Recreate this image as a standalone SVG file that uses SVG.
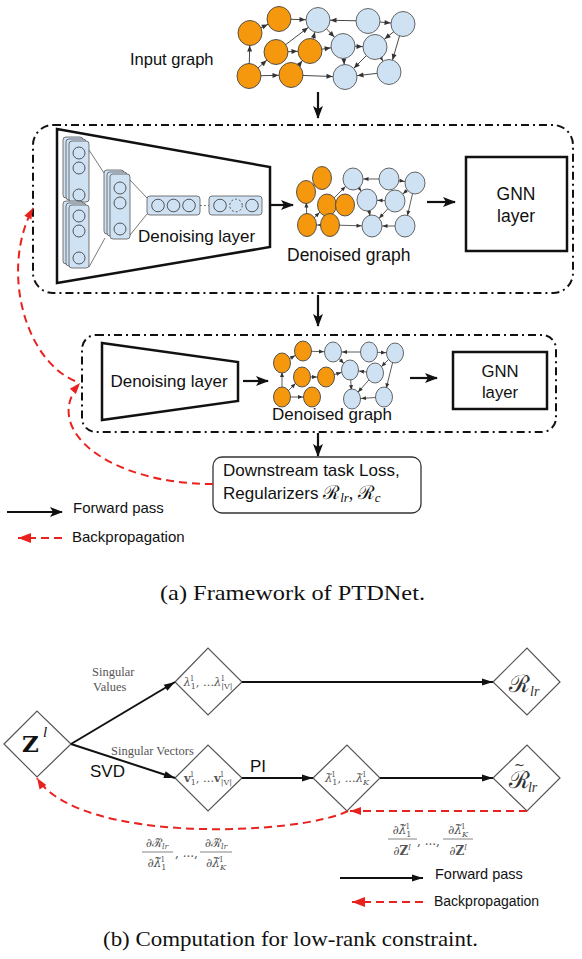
<svg xmlns="http://www.w3.org/2000/svg" width="582" height="959" viewBox="0 0 582 959">
<style>
.sans{font-family:"Liberation Sans",Arial,sans-serif;fill:#111}
.cap{font-family:"Liberation Serif","Times New Roman",serif;fill:#111}
.lab{font-family:"Liberation Serif","DejaVu Serif",serif;fill:#555}
.math{font-family:"DejaVu Serif","Liberation Serif",serif;fill:#555}
.or{fill:#f5980d;stroke:#444;stroke-width:0.9}
.bl{fill:#cfe2f3;stroke:#555;stroke-width:0.9}
.e1{stroke:#333;stroke-width:0.9;fill:none;marker-end:url(#g1)}
.e2{stroke:#333;stroke-width:0.8;fill:none;marker-end:url(#g2)}
.e3{stroke:#333;stroke-width:0.8;fill:none;marker-end:url(#g3)}
.frame{fill:none;stroke:#111;stroke-width:2;stroke-dasharray:8 4 2 4}
.trap{fill:#fff;stroke:#111;stroke-width:2.5}
.box{fill:#fff;stroke:#111;stroke-width:2.5}
.nn{fill:#cfe2f3;stroke:#555;stroke-width:0.8}
.nc{fill:none;stroke:#444;stroke-width:0.9}
.fw{stroke:#111;stroke-width:2.2;fill:none;marker-end:url(#ah)}
.bp{stroke:#e8231f;stroke-width:2;fill:none;stroke-dasharray:8 5;marker-end:url(#rh)}
.dia{fill:#fff;stroke:#555;stroke-width:1.2}
.fb{stroke:#111;stroke-width:2;fill:none;marker-end:url(#bh)}
.bar{stroke:#666;stroke-width:0.8}
</style>
<defs>
<marker id="g1" markerUnits="userSpaceOnUse" orient="auto" refX="18.5" refY="2.5" markerWidth="7" markerHeight="5" overflow="visible"><path d="M0,0 L6,2.5 L0,5 z" fill="#333"/></marker>
<marker id="g2" markerUnits="userSpaceOnUse" orient="auto" refX="15.5" refY="2" markerWidth="6" markerHeight="4" overflow="visible"><path d="M0,0 L5,2 L0,4 z" fill="#333"/></marker>
<marker id="g3" markerUnits="userSpaceOnUse" orient="auto" refX="14" refY="2" markerWidth="6" markerHeight="4" overflow="visible"><path d="M0,0 L5,2 L0,4 z" fill="#333"/></marker>
<marker id="ah" markerUnits="userSpaceOnUse" orient="auto" refX="12" refY="5" markerWidth="13" markerHeight="10" overflow="visible"><path d="M0,0 L13,5 L0,10 L3,5 z" fill="#111"/></marker>
<marker id="bh" markerUnits="userSpaceOnUse" orient="auto" refX="11" refY="3.5" markerWidth="11" markerHeight="7" overflow="visible"><path d="M0,0 L11,3.5 L0,7 z" fill="#111"/></marker>
<marker id="rh" markerUnits="userSpaceOnUse" orient="auto" refX="11" refY="4" markerWidth="11" markerHeight="8" overflow="visible"><path d="M0,0 L11,4 L0,8 z" fill="#e8231f"/></marker>
<marker id="rh2" markerUnits="userSpaceOnUse" orient="auto" refX="13" refY="5" markerWidth="13" markerHeight="10" overflow="visible"><path d="M0,0 L13,5 L0,10 z" fill="#e8231f"/></marker>
</defs>

<!-- frames -->
<g id="frame1"><rect class="frame" x="33" y="125" width="540" height="168" rx="20"/></g>
<g id="frame2"><rect class="frame" x="82" y="335" width="474" height="97" rx="14"/></g>

<!-- input graph -->
<g id="input-graph">
<text class="sans" x="130" y="65" font-size="16.5">Input graph</text>
<path class="e1" d="M249,76 L250,33"/>
<path class="e1" d="M250,33 L279,19"/>
<path class="e1" d="M249,76 L276,52"/>
<path class="e1" d="M249,76 L291,75"/>
<path class="e1" d="M276,52 L310,51"/>
<path class="e1" d="M291,75 L310,51"/>
<path class="e1" d="M279,19 L318,20"/>
<path class="e1" d="M276,52 L318,20"/>
<path class="e1" d="M310,51 L318,20"/>
<path class="e1" d="M310,51 L343,46"/>
<path class="e1" d="M291,75 L345,77"/>
<path class="e1" d="M368,21 L318,20"/>
<path class="e1" d="M368,21 L403,24"/>
<path class="e1" d="M318,20 L343,46"/>
<path class="e1" d="M343,46 L375,47"/>
<path class="e1" d="M343,46 L345,77"/>
<path class="e1" d="M375,47 L345,77"/>
<path class="e1" d="M403,24 L375,47"/>
<path class="e1" d="M403,24 L389,72"/>
<path class="e1" d="M389,72 L345,77"/>
<path class="e1" d="M375,47 L389,72"/>
<ellipse class="or" cx="250" cy="33" rx="12" ry="12.5"/>
<ellipse class="or" cx="279" cy="19" rx="12" ry="12.5"/>
<ellipse class="or" cx="276" cy="52" rx="12" ry="12.5"/>
<ellipse class="or" cx="310" cy="51" rx="12" ry="12.5"/>
<ellipse class="or" cx="249" cy="76" rx="12" ry="12.5"/>
<ellipse class="or" cx="291" cy="75" rx="12" ry="12.5"/>
<ellipse class="bl" cx="318" cy="20" rx="12" ry="12.5"/>
<ellipse class="bl" cx="368" cy="21" rx="12" ry="12.5"/>
<ellipse class="bl" cx="403" cy="24" rx="12" ry="12.5"/>
<ellipse class="bl" cx="343" cy="46" rx="12" ry="12.5"/>
<ellipse class="bl" cx="375" cy="47" rx="12" ry="12.5"/>
<ellipse class="bl" cx="345" cy="77" rx="12" ry="12.5"/>
<ellipse class="bl" cx="389" cy="72" rx="12" ry="12.5"/>
</g>

<!-- denoising layer 1 -->
<g id="denoise1">
<polygon class="trap" points="57,129 270,167 270,247 57,283"/>
<rect class="nn" x="63" y="137" width="20" height="61" rx="3"/>
<rect class="nn" x="66" y="139" width="20" height="61" rx="3"/>
<rect class="nn" x="69" y="141" width="20" height="61" rx="3"/>
<rect class="nn" x="63" y="201" width="20" height="63" rx="3"/>
<rect class="nn" x="66" y="203" width="20" height="63" rx="3"/>
<rect class="nn" x="69" y="205" width="20" height="63" rx="3"/>
<circle class="nc" cx="79" cy="153" r="6"/><circle class="nc" cx="79" cy="168" r="6"/><circle class="nc" cx="79" cy="195" r="6"/>
<circle class="nc" cx="79" cy="216" r="6"/><circle class="nc" cx="79" cy="231" r="6"/><circle class="nc" cx="79" cy="258" r="6"/>
<line x1="89" y1="150" x2="104" y2="173" stroke="#555" stroke-width="0.8"/>
<line x1="89" y1="267" x2="105" y2="238" stroke="#555" stroke-width="0.8"/>
<rect class="nn" x="104" y="170" width="20" height="64" rx="3"/>
<rect class="nn" x="107" y="172" width="20" height="64" rx="3"/>
<rect class="nn" x="110" y="174" width="20" height="65" rx="3"/>
<circle class="nc" cx="120" cy="188" r="6"/><circle class="nc" cx="120" cy="203" r="6"/><circle class="nc" cx="120" cy="229" r="6"/>
<line x1="130" y1="180" x2="147" y2="198" stroke="#555" stroke-width="0.8"/>
<line x1="130" y1="235" x2="147" y2="214" stroke="#555" stroke-width="0.8"/>
<rect class="nn" x="147" y="196" width="53" height="19" rx="3"/>
<circle class="nc" cx="158" cy="205.5" r="6.3"/><circle class="nc" cx="173.5" cy="205.5" r="6.3"/><circle class="nc" cx="189" cy="205.5" r="6.3"/>
<line x1="200" y1="205.5" x2="209" y2="205.5" stroke="#555" stroke-width="0.8" stroke-dasharray="2 2"/>
<rect class="nn" x="209" y="196" width="53" height="19" rx="3"/>
<circle class="nc" cx="220" cy="205.5" r="6.3"/><circle class="nc" cx="236" cy="205.5" r="6.3" stroke-dasharray="2 2"/><circle class="nc" cx="252" cy="205.5" r="6.3"/>
<text class="sans" x="138" y="242" font-size="17">Denoising layer</text>
</g>

<!-- denoised graph 1 -->
<g id="denoised-graph1">
<path class="e2" d="M307,225 L306,192"/>
<path class="e2" d="M306,192 L322,178"/>
<path class="e2" d="M307,225 L327,205"/>
<path class="e2" d="M330,225 L307,225"/>
<path class="e2" d="M327,205 L353,179"/>
<path class="e2" d="M330,225 L372,226"/>
<path class="e2" d="M389,179 L353,179"/>
<path class="e2" d="M389,179 L415,183"/>
<path class="e2" d="M353,179 L367,200"/>
<path class="e2" d="M395,201 L367,200"/>
<path class="e2" d="M367,200 L372,226"/>
<path class="e2" d="M395,201 L372,226"/>
<path class="e2" d="M415,183 L395,201"/>
<path class="e2" d="M415,183 L405,226"/>
<path class="e2" d="M405,226 L372,226"/>
<ellipse class="or" cx="306" cy="192" rx="9.5" ry="11.5"/>
<ellipse class="or" cx="322" cy="178" rx="9.5" ry="11.5"/>
<ellipse class="or" cx="327" cy="205" rx="9.5" ry="11"/>
<ellipse class="or" cx="345" cy="205" rx="9.5" ry="11"/>
<ellipse class="or" cx="307" cy="225" rx="9.5" ry="11.5"/>
<ellipse class="or" cx="330" cy="225" rx="9.5" ry="11.5"/>
<ellipse class="bl" cx="353" cy="179" rx="10" ry="11"/>
<ellipse class="bl" cx="389" cy="179" rx="10" ry="11"/>
<ellipse class="bl" cx="415" cy="183" rx="10" ry="11"/>
<ellipse class="bl" cx="367" cy="200" rx="10" ry="11"/>
<ellipse class="bl" cx="395" cy="201" rx="10" ry="11"/>
<ellipse class="bl" cx="372" cy="226" rx="10" ry="11"/>
<ellipse class="bl" cx="405" cy="226" rx="10" ry="11"/>
<text class="sans" x="287" y="261" font-size="17.5">Denoised graph</text>
</g>

<g id="gnn1">
<rect class="box" x="466" y="157" width="101" height="94"/>
<text class="sans" x="516" y="200" font-size="17.5" text-anchor="middle">GNN</text>
<text class="sans" x="516" y="222" font-size="17.5" text-anchor="middle">layer</text>
</g>

<!-- denoising layer 2 -->
<g id="denoise2">
<polygon class="trap" points="102,343 238,362 238,401 102,420"/>
<text class="sans" x="169" y="387" font-size="17" text-anchor="middle">Denoising layer</text>
</g>

<g id="denoised-graph2">
<path class="e3" d="M282,397 L282,363"/>
<path class="e3" d="M282,363 L303,351"/>
<path class="e3" d="M282,397 L302,377"/>
<path class="e3" d="M282,397 L312,397"/>
<path class="e3" d="M302,377 L326,377"/>
<path class="e3" d="M303,351 L333,352"/>
<path class="e3" d="M326,377 L350,370"/>
<path class="e3" d="M369,352 L333,352"/>
<path class="e3" d="M369,352 L395,353"/>
<path class="e3" d="M333,352 L350,370"/>
<path class="e3" d="M375,373 L350,370"/>
<path class="e3" d="M395,353 L375,373"/>
<path class="e3" d="M395,353 L384,397"/>
<path class="e3" d="M384,397 L352,399"/>
<path class="e3" d="M350,370 L352,399"/>
<path class="e3" d="M375,373 L352,399"/>
<ellipse class="or" cx="282" cy="363" rx="8.5" ry="10"/>
<ellipse class="or" cx="303" cy="351" rx="8.5" ry="10"/>
<ellipse class="or" cx="302" cy="377" rx="8.5" ry="10"/>
<ellipse class="or" cx="326" cy="377" rx="8.5" ry="10"/>
<ellipse class="or" cx="282" cy="397" rx="8.5" ry="10"/>
<ellipse class="or" cx="312" cy="397" rx="8.5" ry="10"/>
<ellipse class="bl" cx="333" cy="352" rx="8.5" ry="10"/>
<ellipse class="bl" cx="369" cy="352" rx="8.5" ry="10"/>
<ellipse class="bl" cx="395" cy="353" rx="8.5" ry="10"/>
<ellipse class="bl" cx="350" cy="370" rx="8.5" ry="10"/>
<ellipse class="bl" cx="375" cy="373" rx="8.5" ry="10"/>
<ellipse class="bl" cx="352" cy="399" rx="8.5" ry="10"/>
<ellipse class="bl" cx="384" cy="397" rx="8.5" ry="10"/>
<text class="sans" x="272" y="420" font-size="17">Denoised graph</text>
</g>

<g id="gnn2">
<rect class="box" x="453" y="352" width="94" height="57"/>
<text class="sans" x="500" y="377" font-size="16.7" text-anchor="middle">GNN</text>
<text class="sans" x="500" y="398" font-size="16.7" text-anchor="middle">layer</text>
</g>

<g id="loss">
<rect x="213" y="457" width="208" height="56" rx="9" fill="#fff" stroke="#333" stroke-width="1.3"/>
<text class="sans" x="223" y="476" font-size="17">Downstream task Loss,</text>
<text class="sans" x="223" y="499" font-size="17">Regularizers <tspan font-family="DejaVu Serif,serif" font-size="19">ℛ</tspan><tspan font-family="Liberation Serif,serif" font-style="italic" font-size="13" dy="3">lr</tspan><tspan font-family="Liberation Serif,serif" font-size="18" dy="-3">, </tspan><tspan font-family="DejaVu Serif,serif" font-size="19">ℛ</tspan><tspan font-family="Liberation Serif,serif" font-style="italic" font-size="13" dy="3">c</tspan></text>
</g>

<!-- connectors part a -->
<g id="connectors-a">
<path class="fw" d="M318,92 L318,118"/>
<path class="fw" d="M270,205 L293,205"/>
<path class="fw" d="M427,202 L455,202"/>
<path class="fw" d="M318,295 L318,326"/>
<path class="fw" d="M243,381 L268,381"/>
<path class="fw" d="M410,378 L437,378"/>
<path class="fw" d="M318,433 L318,456"/>
<path class="bp" d="M213,484 C 110,484 40,430 80,383"/>
<path class="bp" d="M75,381 C 25,360 0,270 33,208"/>
</g>

<!-- legend a -->
<g id="legend-a">
<path class="fw" d="M7,512 L62,512"/>
<text class="sans" x="73" y="513" font-size="15">Forward pass</text>
<path d="M62,538 L18,538" stroke="#e8231f" stroke-width="2" stroke-dasharray="8 5" fill="none" marker-end="url(#rh2)"/>
<text class="sans" x="72" y="542" font-size="15">Backpropagation</text>
</g>

<text class="cap" x="160" y="600" font-size="22" textLength="265" lengthAdjust="spacingAndGlyphs">(a)  Framework of PTDNet.</text>

<!-- part b -->
<g id="node-Z">
<polygon class="dia" points="4,744 37,711 71,744 37,777"/>
<text x="22" y="752" font-family="DejaVu Serif,serif" font-weight="bold" font-size="23" fill="#111">Z</text>
<text x="43" y="737" font-family="Liberation Serif,serif" font-style="italic" font-size="15" fill="#111">l</text>
</g>
<g id="node-lambda">
<polygon class="dia" points="175,682 208,648 242,682 208,715"/>
<text class="math" x="208" y="686" font-size="11.5" text-anchor="middle"><tspan font-style="italic">λ</tspan><tspan font-size="8" dy="-5">l</tspan><tspan font-size="8" dx="-2.6" dy="8">1</tspan><tspan dy="-3">, ...</tspan><tspan font-style="italic">λ</tspan><tspan font-size="8" dy="-5">l</tspan><tspan font-size="8" dx="-2.6" dy="8">|V|</tspan></text>
</g>
<g id="node-v">
<polygon class="dia" points="175,778 208,745 242,778 208,811"/>
<text class="math" x="208" y="782" font-size="11.5" text-anchor="middle"><tspan font-weight="bold">v</tspan><tspan font-size="8" dy="-5">l</tspan><tspan font-size="8" dx="-2.6" dy="8">1</tspan><tspan dy="-3">, ...</tspan><tspan font-weight="bold">v</tspan><tspan font-size="8" dy="-5">l</tspan><tspan font-size="8" dx="-2.6" dy="8">|V|</tspan></text>
</g>
<g id="node-lambda-tilde">
<polygon class="dia" points="313,778 347,745 380,778 347,811"/>
<text class="math" x="347" y="782" font-size="11.5" text-anchor="middle"><tspan font-style="italic">λ̃</tspan><tspan font-size="8" dy="-5">l</tspan><tspan font-size="8" dx="-2.6" dy="8">1</tspan><tspan dy="-3">, ...</tspan><tspan font-style="italic">λ̃</tspan><tspan font-size="8" dy="-5">l</tspan><tspan font-size="8" font-style="italic" dx="-2.6" dy="8">K</tspan></text>
</g>
<g id="node-R">
<polygon class="dia" points="493,682 527,648 560,682 527,715"/>
<text x="509" y="692" font-family="DejaVu Serif,serif" font-size="24" fill="#333">ℛ<tspan font-family="Liberation Serif,serif" font-style="italic" font-size="14" dy="4">lr</tspan></text>
</g>
<g id="node-R-tilde">
<polygon class="dia" points="493,778 527,745 560,778 527,811"/>
<text x="509" y="788" font-family="DejaVu Serif,serif" font-size="24" fill="#333">ℛ<tspan font-size="13" dx="-16" dy="-19">~</tspan><tspan font-family="Liberation Serif,serif" font-style="italic" font-size="14" dx="3" dy="23">lr</tspan></text>
</g>

<g id="connectors-b">
<path class="fb" d="M71,744 L175,682"/>
<path class="fb" d="M71,744 L175,778"/>
<path class="fb" d="M242,682 L493,682"/>
<path class="fb" d="M242,778 L313,778"/>
<path class="fb" d="M380,778 L493,778"/>
<path class="bp" d="M527,811 L350,811"/>
<path class="bp" d="M348,811 C 300,835 80,845 37,778"/>
</g>

<g id="labels-b">
<text class="lab" x="92" y="676" font-size="12.5">Singular</text>
<text class="lab" x="93" y="691" font-size="12.5">Values</text>
<text class="lab" x="111" y="755" font-size="12.5">Singular Vectors</text>
<text class="sans" x="90" y="777" font-size="17">SVD</text>
<text class="sans" x="250" y="772" font-size="17">PI</text>
</g>

<!-- formulas -->
<g id="formula-left" class="math" font-size="12">
<text x="157" y="847" text-anchor="middle">∂ℛ̃<tspan font-size="8" font-style="italic" dy="2">lr</tspan></text>
<line class="bar" x1="142" y1="852" x2="173" y2="852"/>
<text x="157" y="867" text-anchor="middle">∂<tspan font-style="italic">λ̃</tspan><tspan font-size="8" dy="-5">l</tspan><tspan font-size="8" dx="-2.6" dy="8">1</tspan></text>
<text x="175" y="857">, ...,</text>
<text x="216" y="847" text-anchor="middle">∂ℛ̃<tspan font-size="8" font-style="italic" dy="2">lr</tspan></text>
<line class="bar" x1="200" y1="852" x2="232" y2="852"/>
<text x="216" y="867" text-anchor="middle">∂<tspan font-style="italic">λ̃</tspan><tspan font-size="8" dy="-5">l</tspan><tspan font-size="8" font-style="italic" dx="-2.6" dy="8">K</tspan></text>
</g>
<g id="formula-right" class="math" font-size="12">
<text x="402" y="834" text-anchor="middle">∂<tspan font-style="italic">λ̃</tspan><tspan font-size="8" dy="-5">l</tspan><tspan font-size="8" dx="-2.6" dy="8">1</tspan></text>
<line class="bar" x1="388" y1="839" x2="417" y2="839"/>
<text x="402" y="855" text-anchor="middle">∂<tspan font-weight="bold">Z</tspan><tspan font-size="8" font-style="italic" dy="-5">l</tspan></text>
<text x="417" y="845">, ...,</text>
<text x="458" y="834" text-anchor="middle">∂<tspan font-style="italic">λ̃</tspan><tspan font-size="8" dy="-5">l</tspan><tspan font-size="8" font-style="italic" dx="-2.6" dy="8">K</tspan></text>
<line class="bar" x1="443" y1="839" x2="473" y2="839"/>
<text x="458" y="855" text-anchor="middle">∂<tspan font-weight="bold">Z</tspan><tspan font-size="8" font-style="italic" dy="-5">l</tspan></text>
</g>

<g id="legend-b">
<path class="fb" d="M340,878 L423,878"/>
<text class="sans" x="435" y="879" font-size="14.5">Forward pass</text>
<path d="M423,902 L352,902" stroke="#e8231f" stroke-width="2" stroke-dasharray="8 5" fill="none" marker-end="url(#rh2)"/>
<text class="sans" x="434" y="906" font-size="14">Backpropagation</text>
</g>

<text class="cap" x="103" y="946" font-size="22" textLength="375" lengthAdjust="spacingAndGlyphs">(b)  Computation for low-rank constraint.</text>
</svg>
